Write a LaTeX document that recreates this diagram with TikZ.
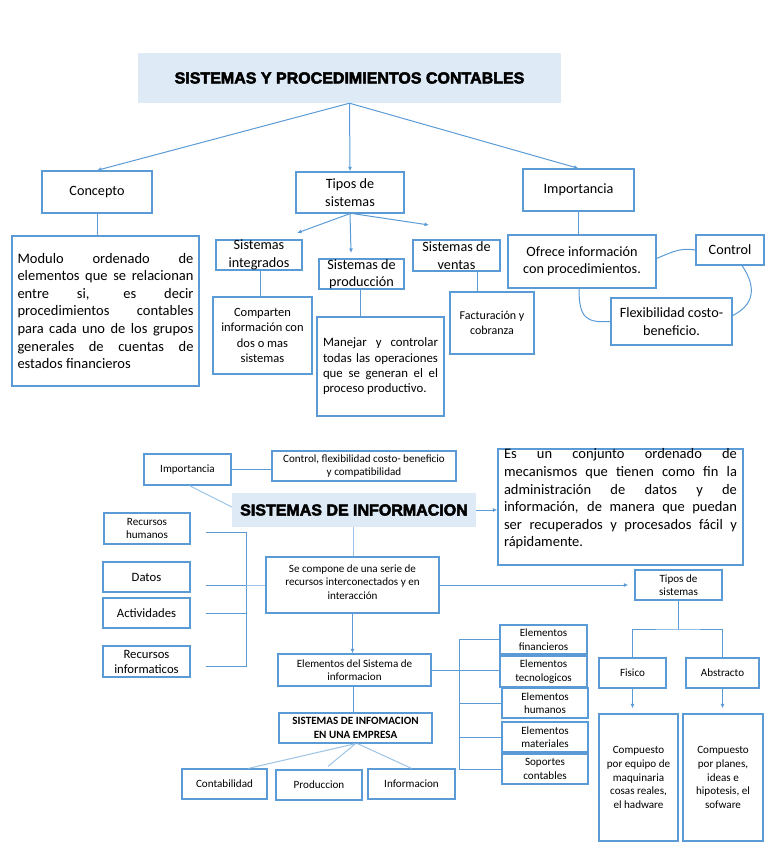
\documentclass[tikz,border=0pt]{standalone}
\usepackage{fontspec}
\setmainfont{Carlito}
\newfontfamily\heavy[FakeBold=3]{Liberation Sans Bold}
\usetikzlibrary{arrows.meta}
\definecolor{bord}{HTML}{5B9BD5}
\definecolor{lite}{HTML}{9DC3E6}
\definecolor{tfill}{HTML}{DEEBF7}
\newcommand\jline[2]{\makebox[#1pt][s]{#2}}
\begin{document}
\begin{tikzpicture}[x=1pt,y=-1pt,
  box/.style={draw=bord, line width=1.3pt, inner sep=0pt},
  bx/.style 2 args={minimum width=#1, minimum height=#2},
  ln/.style={draw=bord, line width=1pt},
  lt/.style={draw=lite, line width=1pt},
  arr/.style={ln, -{Latex[length=4.5pt,width=4pt]}},
  every label/.style={text=black, inner sep=0pt},
  f14/.style={font=\fontsize{14.2}{17.5}\selectfont, align=center},
  fj/.style={font=\fontsize{14.5}{17.6}\selectfont, align=left},
  f13/.style={font=\fontsize{12.7}{15}\selectfont, align=center},
  f12/.style={font=\fontsize{12.5}{15.2}\selectfont, align=center},
  fm/.style={font=\fontsize{12.8}{15.3}\selectfont, align=left},
  f11/.style={font=\fontsize{11.1}{13.6}\selectfont, align=center},
  ttl/.style={font=\heavy\fontsize{16}{19}\selectfont}
]
\useasboundingbox (0,0) rectangle (768,866);

% ---------- top part ----------
\node[fill=tfill, bx={423}{50}, inner sep=0pt,
  label={[ttl]center:SISTEMAS Y PROCEDIMIENTOS CONTABLES}] (title) at (349.5,78) {};
\node[box,bx={110}{42},label={[f14]center:Concepto}] (concept) at (97,192) {};
\node[box,bx={108}{41},label={[f14]center:Tipos de\\sistemas}] (tipos1) at (350,192.5) {};
\node[box,bx={111}{42},label={[f14]center:Importancia}] (imp1) at (578.5,190) {};

\node[box,bx={187}{150},label={[fj]center:\jline{176}{Modulo ordenado de}\\\jline{176}{elementos que se relacionan}\\\jline{176}{entre si, es decir}\\\jline{176}{procedimientos contables}\\\jline{176}{para cada uno de los grupos}\\\jline{176}{generales de cuentas de}\\estados financieros}] (modulo) at (105.5,311) {};

\node[box,bx={86}{30},label={[f14]center:Sistemas\\integrados}] (integ) at (259,255) {};
\node[box,bx={85}{30},label={[f14]center:Sistemas de\\producción}] (prod) at (361.5,274) {};
\node[box,bx={87}{31},label={[f14]center:Sistemas de\\ventas}] (ventas) at (456.5,255.5) {};

\node[box,bx={99}{77},label={[f12]center:Comparten\\información con\\dos o mas\\sistemas}] (comparten) at (262.5,335.5) {};
\node[box,bx={127}{99},label={[fm]center:\jline{115}{Manejar y controlar}\\\jline{115}{todas las operaciones}\\\jline{115}{que se generan el el}\\proceso productivo.}] (manejar) at (380.5,366.5) {};
\node[box,bx={84}{62},label={[font=\fontsize{12}{14.3}\selectfont,align=center]center:Facturación y\\cobranza}] (factur) at (492,323) {};

\node[box,bx={148}{53},label={[f14]center:Ofrece información\\con procedimientos.}] (ofrece) at (582,261.5) {};
\node[box,bx={68}{30},label={[f14]center:Control}] (control) at (730,250) {};
\node[box,bx={121}{47},label={[f14]center:Flexibilidad costo-\\beneficio.}] (flex) at (671.5,321.5) {};

\draw[arr] (title.south) -- (concept.north);
\draw[arr] (title.south) -- (tipos1.north);
\draw[arr] (title.south) -- (imp1.north);
\coordinate (a1) at (297,233);
\coordinate (a2) at (351,253);
\coordinate (a3) at (429,225);
\draw[arr] (tipos1.south) -- (a1);
\draw[arr] (tipos1.south) -- (a2);
\draw[arr] ([xshift=3pt]tipos1.south) -- (a3);
\draw[ln] (concept.south) -- (concept.south |- modulo.north);
\draw[ln] ([xshift=1pt]integ.south) -- ([xshift=1pt]integ.south |- comparten.north);
\draw[ln] ([xshift=-1.5pt]prod.south) -- ([xshift=-1.5pt]prod.south |- manejar.north);
\draw[ln] ([xshift=20.5pt]ventas.south) -- ([xshift=20.5pt]ventas.south |- factur.north);
\draw[ln] (imp1.south) -- (imp1.south |- ofrece.north);
\draw[ln] ([yshift=3pt]ofrece.east) .. controls (676,250) and (682,248) .. (control.west);
\draw[ln] ([xshift=12pt]control.south) .. controls (752,280) and (760,302) .. ([yshift=6pt]flex.east);
\draw[ln] ([xshift=-3pt]ofrece.south) .. controls (579,318) and (586,323) .. (flex.west);

% ---------- bottom part ----------
\node[box,bx={87}{31},label={[f11]center:Importancia}] (imp2) at (187.5,469.5) {};
\node[box,bx={184}{30},label={[f11]center:Control, flexibilidad costo- beneficio\\y compatibilidad}] (cfc) at (364,466) {};
\node[fill=tfill, bx={244}{34}, inner sep=0pt,
  label={[ttl]center:SISTEMAS DE INFORMACION}] (sdi) at (354,510) {};
\node[box,bx={245}{116},label={[fj,yshift=8pt]center:\jline{233}{Es un conjunto ordenado de}\\\jline{233}{mecanismos que tienen como fin la}\\\jline{233}{administración de datos y de}\\\jline{233}{información, de manera que puedan}\\\jline{233}{ser recuperados y procesados fácil y}\\rápidamente.}] (esun) at (620.5,507) {};
\node[box,bx={173}{56},label={[f11,yshift=3pt]center:Se compone de una serie de\\recursos interconectados y en\\interacción}] (secomp) at (352.5,585) {};
\node[box,bx={87}{30},label={[f11]center:Tipos de\\sistemas}] (tipos2) at (678.5,585) {};
\node[box,bx={67}{30},label={[f11]center:Fisico}] (fisico) at (632.5,673) {};
\node[box,bx={73}{30},label={[f11]center:Abstracto}] (abstr) at (722.5,673) {};
\node[box,bx={79}{127},label={[f11]center:Compuesto\\por equipo de\\maquinaria\\cosas reales,\\el hadware}] (comp1) at (638.5,777.5) {};
\node[box,bx={80}{127},label={[f11]center:Compuesto\\por planes,\\ideas e\\hipotesis, el\\sofware}] (comp2) at (723,777.5) {};

\node[box,bx={86}{31},label={[f11]center:Recursos\\humanos}] (rh) at (147,528.5) {};
\node[box,bx={87}{30},label={[f13]center:Datos}] (datos) at (146.5,577) {};
\node[box,bx={87}{30},label={[f13]center:Actividades}] (activ) at (146.5,613) {};
\node[box,bx={87}{31},label={[f13]center:Recursos\\informaticos}] (rinf) at (146.5,661.5) {};

\node[box,bx={153}{32},label={[f11]center:Elementos del Sistema de\\informacion}] (eds) at (354.5,670) {};
\node[box,bx={153}{30},label={[f11,font=\bfseries\fontsize{11.1}{13.6}\selectfont]center:SISTEMAS DE INFOMACION\\EN UNA EMPRESA}] (sdie) at (355.5,728) {};
\node[box,bx={85}{30},label={[f11]center:Contabilidad}] (conta) at (224.5,784) {};
\node[box,bx={86}{30},label={[f11]center:Produccion}] (produc) at (319,785) {};
\node[box,bx={87}{30},label={[f11]center:Informacion}] (infor) at (411.5,784) {};

\node[box,bx={87}{29},label={[f11]center:Elementos\\financieros}] (efin) at (543.5,639.5) {};
\node[box,bx={87}{31},label={[f11]center:Elementos\\tecnologicos}] (etec) at (543.5,671.5) {};
\node[box,bx={86}{30},label={[f11]center:Elementos\\humanos}] (ehum) at (545,703) {};
\node[box,bx={86}{30},label={[f11]center:Elementos\\materiales}] (emat) at (545,737) {};
\node[box,bx={86}{30},label={[f11]center:Soportes\\contables}] (esop) at (545,769) {};

% connectors bottom
\draw[ln] (imp2.east) -- (imp2.east -| cfc.west);
\draw[lt] ([xshift=2pt]imp2.south) -- ([yshift=3pt]sdi.west);
\draw[arr] (sdi.east) -- (sdi.east -| esun.west);
\draw[lt] ([xshift=-1pt]sdi.south) -- ([xshift=-1pt]sdi.south |- secomp.north);
\draw[arr, shorten >=6pt] (secomp.east) -- (tipos2.west);
\coordinate (tj) at (678.5,629);
\draw[ln] (tipos2.south) -- (tj);
\draw[ln] (fisico.north) |- (tj) -| (abstr.north);
\draw[arr, shorten >=5pt] (fisico.south) -- (fisico.south |- comp1.north);
\draw[arr, shorten >=5pt] (abstr.south) -- (abstr.south |- comp2.north);

\coordinate (b1) at (206,532);
\coordinate (b2) at (206,585);
\coordinate (b3) at (206,613);
\coordinate (b4) at (206,666);
\coordinate (bv) at (246,600);
\draw[ln] (b1) -| (bv |- b4) -- (b4);
\draw[ln] (b3) -- (b3 -| bv);
\draw[ln] (b2) -- (b2 -| bv);
\draw[lt] (b2 -| bv) -- (secomp.west);

\draw[arr] (secomp.south) -- (secomp.south |- eds.north);
\draw[ln] ([xshift=-1pt]eds.south) -- ([xshift=-1pt]eds.south |- sdie.north);
\draw[lt] (sdie.south) -- ([xshift=24pt]conta.north);
\draw[lt] (sdie.south) -- ([xshift=9pt,yshift=3pt]produc.north);
\draw[lt] ([xshift=2pt]sdie.south) -- (infor.north);

\coordinate (rb) at (459,700);
\draw[ln] (eds.east) -- (eds.east -| etec.west);
\draw[ln] (efin.west) -| (rb |- esop.west) -- (esop.west);
\draw[ln] (ehum.west) -- (ehum.west -| rb);
\draw[ln] (emat.west) -- (emat.west -| rb);
\end{tikzpicture}
\end{document}
